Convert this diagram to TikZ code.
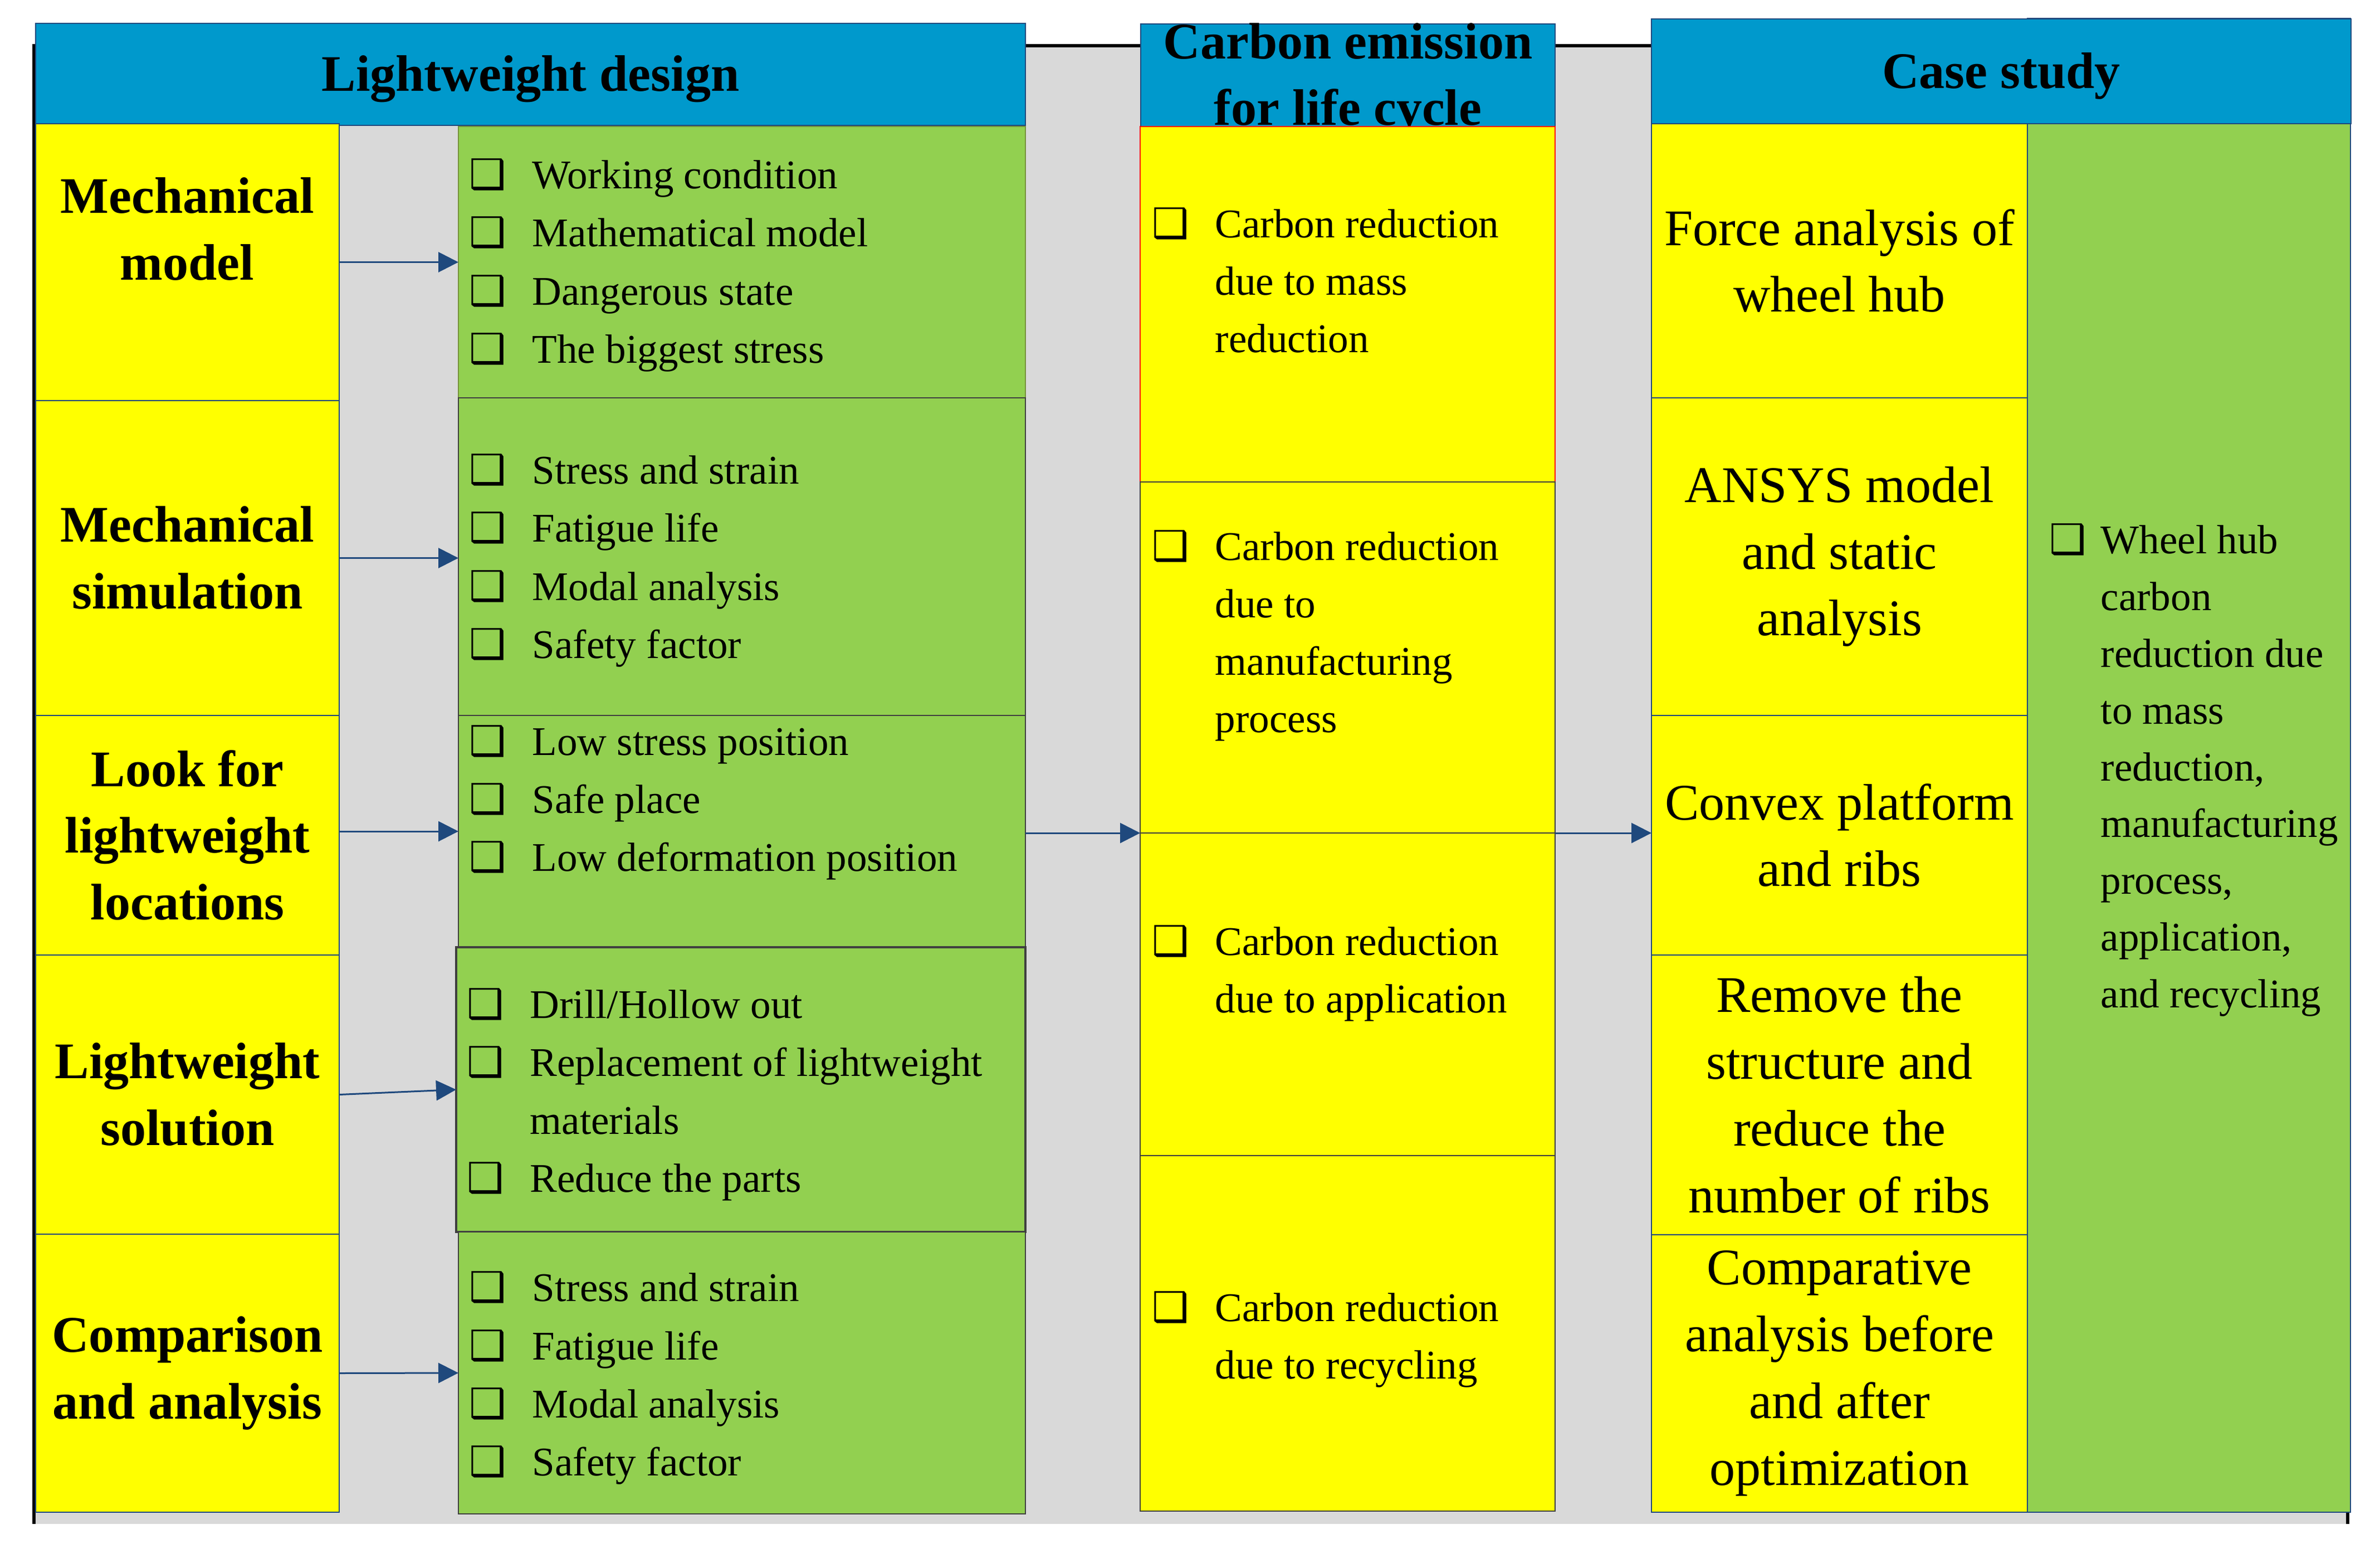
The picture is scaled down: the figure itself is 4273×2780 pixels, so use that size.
\documentclass[tikz,border=0pt]{standalone}
\usepackage{fontspec}
\setmainfont{Liberation Serif}
\newfontfamily\symfont{DejaVu Sans}
\usetikzlibrary{fit, arrows.meta}

\definecolor{hdblue}{RGB}{0,153,204}
\definecolor{boxyel}{RGB}{255,255,0}
\definecolor{boxgrn}{RGB}{146,208,80}
\definecolor{bggray}{RGB}{217,217,217}
\definecolor{lnblue}{RGB}{31,73,125}
\definecolor{lngray}{RGB}{64,64,64}
\definecolor{lnolive}{RGB}{119,147,60}

\newcommand{\bl}{\makebox[11.3mm][l]{\symfont\fontsize{21}{21}\selectfont ❑}}
\newcommand{\bli}{\hspace*{11.3mm}}

\begin{document}
\begin{tikzpicture} [
  x=0.1mm, y=-0.1mm,
  box/.style={rectangle, inner sep=0pt, outer sep=0pt, line width=0.2mm},
  hd/.style={box, fill=hdblue, draw=lnblue},
  ybox/.style={box, fill=boxyel, draw=lnblue},
  gbox/.style={box, fill=boxgrn, draw=lngray},
  big/.style={font=\fontsize{26.2}{34.1}\selectfont, align=center, inner sep=0pt},
  bigb/.style={big, font=\fontsize{26.2}{34.1}\selectfont\bfseries},
  hdtext/.style={bigb, yshift=-0.8mm},
  small/.style={font=\fontsize{20.8}{29.6}\selectfont, align=left, inner sep=0pt, anchor=west},
  arr/.style={draw=lnblue, line width=0.3mm, -{Triangle[length=3.6mm, width=3.6mm]}}
  ]
  \useasboundingbox (0,0) rectangle (4273,2780);
  % panel
  \fill[bggray] (61,82) rectangle (4215,2735);
  \draw[black, line width=0.6mm] (61,2735) -- (61,82) -- (4215,82) -- (4215,2735);

  % case study summary column (behind its header)
  \node[gbox, draw=lnblue, fit={(3640,33) (4220,2714)}] (cg) {};
  \node[small, font=\fontsize{20.8}{29}\selectfont] (cgt) at (3679,1382) {\makebox[9.2mm][l]{\symfont\fontsize{21}{21}\selectfont ❑}Wheel hub\\
    \hspace*{9.2mm}carbon\\ \hspace*{9.2mm}reduction due\\ \hspace*{9.2mm}to mass\\ \hspace*{9.2mm}reduction,\\
    \hspace*{9.2mm}manufacturing\\ \hspace*{9.2mm}process,\\ \hspace*{9.2mm}application,\\ \hspace*{9.2mm}and recycling};

  % headers
  \node[hd, fit={(64,42) (1841,225)}] (hL) {};
  \node[hdtext] (hLt) at (hL.center) {Lightweight design};
  \node[hd, fit={(2048,43) (2792,227)}] (hC) {};
  \node[hdtext] (hCt) at (hC.center) {Carbon emission\\for life cycle};
  \node[hd, fit={(2965,34) (4221,222)}] (hS) {};
  \node[hdtext] (hSt) at (hS.center) {Case study};

  % lightweight design: steps
  \node[ybox, fit={(64,222) (609,719)}] (m1) {};
  \node[ybox, fit={(64,719) (609,1284)}] (m2) {};
  \node[ybox, fit={(64,1284) (609,1714)}] (m3) {};
  \node[ybox, fit={(64,1714) (609,2215)}] (m4) {};
  \node[ybox, fit={(64,2215) (609,2714)}] (m5) {};
  \node[bigb] (m1t) at (336,411) {Mechanical\\model};
  \node[bigb] (m2t) at (m2.center) {Mechanical\\simulation};
  \node[bigb] (m3t) at (m3.center) {Look for\\lightweight\\locations};
  \node[bigb] (m4t) at (m4.center) {Lightweight\\solution};
  \node[bigb] (m5t) at (m5.center) {Comparison\\and analysis};

  % lightweight design: contents
  \node[gbox, draw=lnolive, fit={(823,227) (1841,714)}] (g1) {};
  \node[gbox, fit={(823,714) (1841,1284)}] (g2) {};
  \node[gbox, fit={(823,1284) (1841,1700)}] (g3) {};
  \node[gbox, line width=0.4mm, fit={(819,1700) (1841,2211)}] (g4) {};
  \node[gbox, fit={(823,2211) (1841,2717)}] (g5) {};
  \node[small] (g1t) at (842,476) {\bl Working condition\\ \bl Mathematical model\\ \bl Dangerous state\\ \bl The biggest stress};
  \node[small] (g2t) at (842,1006) {\bl Stress and strain\\ \bl Fatigue life\\ \bl Modal analysis\\ \bl Safety factor};
  \node[small] (g3t) at (842,1440) {\bl Low stress position\\ \bl Safe place\\ \bl Low deformation position};
  \node[small] (g4t) at (838,1964) {\bl Drill/Hollow out\\ \bl Replacement of lightweight\\ \bli materials\\ \bl Reduce the parts};
  \node[small] (g5t) at (842,2473) {\bl Stress and strain\\ \bl Fatigue life\\ \bl Modal analysis\\ \bl Safety factor};

  % carbon emission
  \node[ybox, draw=red, fit={(2047,227) (2792,865)}] (c1) {};
  \node[ybox, draw=lngray, fit={(2047,865) (2792,1495)}] (c2) {};
  \node[ybox, draw=lngray, fit={(2047,1495) (2792,2074)}] (c3) {};
  \node[ybox, draw=lngray, fit={(2047,2074) (2792,2712)}] (c4) {};
  \node[small, font=\fontsize{20.8}{29.3}\selectfont] (c1t) at (2068,503) {\bl Carbon reduction\\ \bli due to mass\\ \bli reduction};
  \node[small, font=\fontsize{20.8}{29.3}\selectfont] (c2t) at (2068,1141) {\bl Carbon reduction\\ \bli due to\\ \bli manufacturing\\ \bli process};
  \node[small, font=\fontsize{20.8}{29.3}\selectfont] (c3t) at (2068,1747) {\bl Carbon reduction\\ \bli due to application};
  \node[small, font=\fontsize{20.8}{29.3}\selectfont] (c4t) at (2068,2404) {\bl Carbon reduction\\ \bli due to recycling};

  % case study
  \node[ybox, fit={(2965,222) (3640,714)}] (r1) {};
  \node[ybox, fit={(2965,714) (3640,1284)}] (r2) {};
  \node[ybox, fit={(2965,1284) (3640,1714)}] (r3) {};
  \node[ybox, fit={(2965,1714) (3640,2216)}] (r4) {};
  \node[ybox, fit={(2965,2216) (3640,2714)}] (r5) {};
  \node[big] (r1t) at (r1.center) {Force analysis of\\wheel hub};
  \node[big] (r2t) at (r2.center) {ANSYS model\\and static\\analysis};
  \node[big] (r3t) at (r3.center) {Convex platform\\and ribs};
  \node[big] (r4t) at (r4.center) {Remove the\\structure and\\reduce the\\number of ribs};
  \node[big] (r5t) at (r5.center) {Comparative\\analysis before\\and after\\optimization};

  \draw[arr] (m1.east) -- (g1.west);
  \draw[arr] (m2.east) -- (m2.east -| g2.west);
  \draw[arr] (g3.west -| m3.east) -- (g3.west);
  \draw[arr] (m4.east) -- (g4.west);
  \draw[arr] (m5.east) -- (g5.west);
  \draw[arr] (c3.north west -| g3.east) -- (c3.north west);
  \draw[arr] (c3.north east) -- (c3.north east -| r3.west);
\end{tikzpicture}
\end{document}
